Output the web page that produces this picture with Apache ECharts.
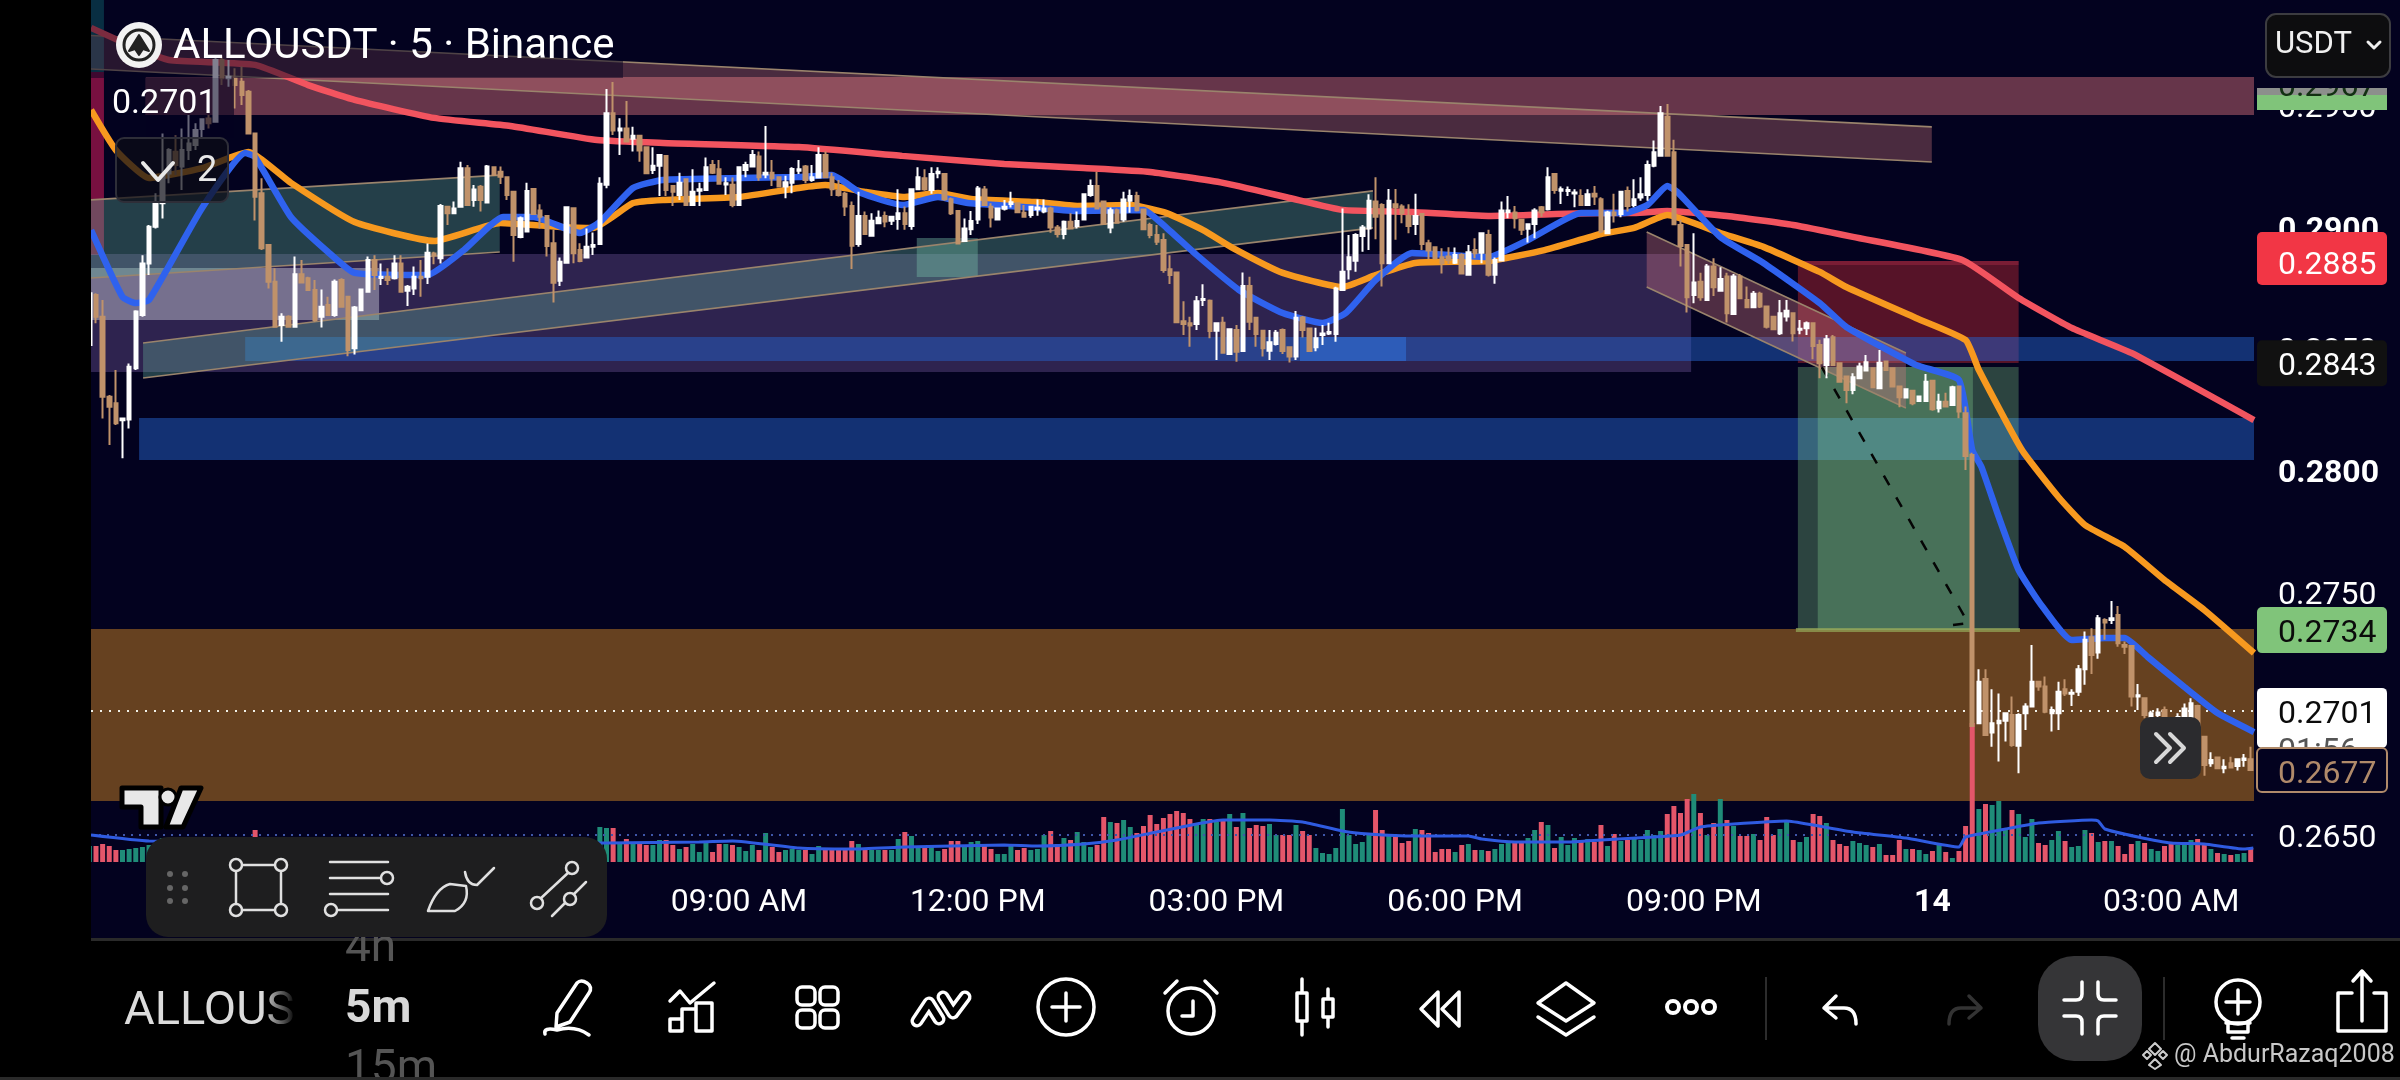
<!DOCTYPE html>
<html><head><meta charset="utf-8">
<style>html,body{margin:0;padding:0;background:#000}#c{width:2400px;height:1080px}</style>
<script src="https://cdn.jsdelivr.net/npm/echarts@6/dist/echarts.min.js"></script>
</head><body><div id="c"></div>
<script>
// Candle values, in 1e-5 USDT. First candle is bar index -1 (5-minute bars).
const opens = [
28514,28719,28630,28301,28274,28205,28208,28418,28637,28849,
29000,29096,29219,29308,29247,29315,29336,29401,29445,29431,
29685,29610,29610,29596,29555,29383,29137,28925,28774,28596,
28630,28589,28805,28788,28740,28630,28678,28637,28781,28712,
28500,28657,28733,28863,28789,28794,28788,28849,28737,28746,
28794,28794,28890,28870,29082,29055,29082,29240,29110,29164,
29099,29244,29226,29203,29144,28958,28980,29155,29066,29044,
28932,28778,28852,29076,28904,28873,28918,28929,29172,29466,
29395,29404,29361,29374,29326,29233,29250,29291,29167,29130,
29195,29089,29148,29151,29254,29236,29173,29172,29089,29233,
29247,29288,29214,29222,29203,29165,29181,29230,29247,29192,
29202,29295,29203,29148,29135,29085,28929,29044,28963,29014,
29044,29024,29032,29055,29003,29154,29199,29151,29220,29217,
29113,29064,28941,28989,29030,29153,29082,29030,29074,29093,
29096,29057,29048,29072,29062,29075,28997,28970,29020,29003,
29030,29130,29167,29103,28997,29068,29030,29107,29126,29071,
29007,28966,28945,28825,28812,28611,28603,28600,28699,28696,
28572,28605,28477,28575,28489,28756,28626,28572,28490,28518,
28575,28504,28466,28627,28582,28504,28555,28561,28559,28740,
28825,28860,28962,28993,29103,29089,28850,29092,29083,29044,
29011,29052,28932,28915,28874,28877,28852,28884,28802,28904,
28893,28966,28802,28861,29059,29058,29028,28992,29011,29080,
29072,29217,29148,29147,29136,29126,29089,29135,29113,28973,
29058,29052,29147,29089,29120,29130,29250,29292,29452,29306,
29007,28925,28719,28774,28699,28836,28737,28795,28641,28795,
28699,28669,28724,28672,28630,28562,28631,28644,28576,28583,
28603,28514,28432,28546,28439,28384,28329,28377,28409,28418,
28336,28446,28418,28343,28298,28326,28284,28284,28367,28254,
28281,28267,28343,28233,28062,26959,27141,26921,26959,26970,
26993,26867,27000,27028,27130,27110,27000,27000,27099,27080,
27089,27181,27313,27250,27384,27384,27404,27281,27277,27069,
27062,26986,26993,27014,26959,26950,26973,26973,27030,26904,
26795,26819,26774,26795,26784,26808,26811];
const closes = [
28726,28630,28301,28260,28192,28212,28424,28651,28849,29000,
29096,29212,29315,29253,29315,29342,29397,29442,29425,29685,
29610,29616,29582,29541,29383,29123,28911,28774,28589,28630,
28589,28805,28771,28740,28616,28671,28637,28774,28671,28493,
28668,28742,28863,28801,28794,28781,28849,28733,28753,28794,
28788,28893,28883,29085,29055,29075,29240,29089,29153,29110,
29247,29212,29205,29130,28966,29035,29147,29052,29041,28921,
28770,28856,29080,28891,28859,28918,28925,29176,29466,29395,
29404,29350,29374,29313,29220,29250,29295,29151,29144,29181,
29089,29144,29154,29244,29222,29176,29178,29089,29244,29254,
29295,29203,29222,29199,29165,29183,29237,29236,29192,29203,
29295,29203,29154,29130,29083,28922,29044,28970,29024,29037,
29021,29041,29055,29011,29154,29203,29154,29217,29226,29113,
29055,28931,28993,29023,29157,29089,29038,29075,29082,29100,
29059,29041,29082,29079,29075,28997,28970,29020,28993,29023,
29133,29167,29075,29011,29068,29016,29112,29126,29068,28989,
28966,28938,28822,28801,28607,28600,28594,28694,28703,28571,
28603,28482,28578,28486,28756,28609,28559,28500,28525,28564,
28489,28466,28626,28575,28489,28541,28561,28567,28746,28815,
28874,28966,28997,29107,29041,28850,29107,29080,29055,29003,
29044,28929,28902,28870,28850,28863,28884,28808,28895,28891,
28973,28802,28863,29066,29066,29035,28987,29010,29066,29059,
29203,29151,29154,29151,29140,29089,29133,29124,28980,29058,
29048,29144,29085,29113,29133,29254,29306,29466,29292,29010,
28921,28710,28771,28710,28836,28751,28785,28644,28795,28706,
28669,28724,28672,28589,28578,28644,28655,28562,28581,28603,
28510,28439,28537,28432,28363,28329,28381,28425,28443,28340,
28441,28411,28343,28299,28332,28274,28302,28363,28250,28281,
28261,28340,28240,28058,26948,27130,26911,26959,26970,27000,
26870,26993,27028,27130,27110,27007,27014,27089,27082,27085,
27181,27302,27240,27391,27373,27391,27288,27274,27069,27074,
26993,27000,27003,26959,26950,26985,27020,27041,26918,26788,
26808,26774,26781,26777,26811,26814,26767];
const lows = [
28514,28603,28212,28103,28185,28048,28171,28411,28630,28801,
28993,29034,29178,29212,29151,29274,29315,29363,29404,29431,
29582,29575,29486,29500,29381,29025,28904,28746,28586,28527,
28586,28586,28767,28737,28609,28586,28634,28630,28668,28468,
28475,28655,28729,28740,28760,28760,28783,28729,28674,28719,
28712,28764,28846,28849,29007,29052,29079,29085,29082,29062,
29096,29208,29175,29110,28856,28952,28976,29048,28993,28877,
28688,28756,28850,28850,28854,28870,28884,28925,29158,29377,
29295,29346,29309,29267,29217,29217,29126,29126,29085,29110,
29085,29085,29085,29148,29217,29172,29130,29080,29085,29203,
29244,29189,29199,29167,29162,29117,29137,29217,29178,29185,
29199,29199,29126,29124,29044,28826,28918,28966,28962,29011,
28998,29007,28987,28987,28987,29151,29148,29135,29199,29107,
29048,28927,28938,28966,29011,29085,28997,29025,29066,29079,
29056,29038,29037,29045,29055,28975,28956,28948,28989,28993,
29025,29123,29071,29007,28973,29014,29020,29057,29062,28986,
28952,28925,28811,28764,28605,28555,28507,28575,28674,28541,
28452,28479,28474,28445,28486,28575,28507,28466,28452,28512,
28477,28442,28452,28545,28485,28488,28514,28555,28527,28737,
28783,28815,28897,28904,28948,28754,28847,28946,29014,28973,
28966,28904,28866,28866,28808,28847,28847,28806,28800,28870,
28850,28795,28765,28858,29035,28993,28966,28935,28952,29041,
29066,29135,29093,29126,29080,29085,29087,29089,28973,28970,
29017,29039,29062,29080,29107,29107,29244,29289,29289,29007,
28836,28647,28685,28696,28696,28715,28735,28606,28639,28702,
28666,28666,28666,28582,28575,28555,28610,28528,28558,28555,
28455,28377,28377,28428,28359,28274,28311,28374,28406,28336,
28333,28407,28340,28258,28294,28266,28281,28281,28244,28236,
28258,28263,28213,28000,26945,26956,26908,26863,26802,26884,
26863,26754,26932,27025,27093,27000,26925,26932,27071,27030,
27071,27117,27162,27224,27302,27367,27274,27244,27028,27014,
26980,26975,26970,26950,26930,26930,26960,26959,26900,26743,
26781,26770,26754,26774,26765,26781,26765];
const highs = [
28726,28726,28699,28308,28411,28212,28438,28657,28883,29007,
29137,29383,29322,29377,29404,29459,29425,29445,29459,29692,
29699,29685,29651,29658,29562,29386,29199,28925,28829,28644,
28636,28877,28863,28794,28781,28742,28712,28783,28788,28715,
28674,28746,28877,28883,28849,28829,28883,28883,28760,28836,
28863,28931,28897,29093,29085,29103,29267,29253,29171,29171,
29253,29247,29247,29205,29146,29042,29181,29158,29092,29047,
28987,28873,29083,29076,28932,28993,28976,29203,29566,29595,
29446,29517,29411,29377,29329,29326,29295,29295,29171,29222,
29199,29236,29181,29284,29274,29274,29203,29202,29247,29267,
29315,29309,29414,29274,29206,29209,29244,29274,29254,29254,
29326,29309,29222,29192,29144,29103,29144,29062,29055,29066,
29062,29044,29154,29083,29158,29244,29236,29244,29244,29220,
29120,29067,29034,29064,29167,29167,29096,29079,29110,29144,
29096,29089,29085,29112,29112,29082,29007,29025,29055,29062,
29137,29194,29226,29103,29079,29075,29144,29153,29144,29074,
29016,29007,28973,28883,28812,28694,28630,28715,28763,28701,
28605,28630,28582,28596,28812,28794,28627,28575,28575,28575,
28582,28507,28653,28633,28585,28585,28596,28605,28753,29075,
28966,28973,29007,29133,29203,29096,29155,29155,29092,29092,
29135,29055,28946,28918,28911,28915,28914,28891,28925,28952,
28976,28987,28873,29103,29126,29085,29030,29014,29076,29085,
29244,29220,29165,29165,29154,29154,29154,29167,29121,29065,
29135,29148,29165,29195,29203,29272,29354,29496,29504,29357,
29028,28929,28973,28811,28847,28870,28833,28811,28806,28806,
28754,28736,28733,28674,28633,28699,28699,28647,28617,28610,
28606,28535,28555,28555,28441,28387,28398,28441,28473,28422,
28493,28450,28421,28346,28336,28329,28304,28395,28370,28313,
28318,28346,28346,28261,28071,27181,27181,27099,27082,27003,
27069,27000,27041,27281,27133,27151,27028,27130,27140,27099,
27199,27336,27350,27404,27391,27462,27441,27295,27280,27121,
27065,27011,27021,27028,26985,27000,27040,27062,27035,26907,
26840,26822,26811,26822,26814,26833,26863];
// Volume per bar (relative units), same order as the candles.
const volumes = [
16,16,18,16,12,12,13,14,15,17,
18,24,20,16,20,14,13,12,11,24,
18,14,13,14,18,32,24,20,20,12,
10,20,12,10,14,12,10,14,12,18,
16,12,14,12,10,9,10,12,9,10,
9,12,7,18,8,7,16,16,9,9,
13,7,8,9,16,10,14,10,8,12,
16,10,16,14,9,8,9,35,34,34,
19,23,20,20,17,17,22,22,17,13,15,18,10,20,10,18,18,17,15,11,17,12,29,15,10,12,13,12,
12,8,16,13,12,12,12,21,18,13,12,12,12,12,23,30,26,14,14,16,11,13,21,21,17,20,21,18,13,8,8,16,12,14,12,13,27,31,18,24,22,30,20,15,17,45,40,39,42,35,29,36,47,38,44,48,51,49,43,38,43,43,40,42,48,35,49,34,37,36,38,27,27,27,37,31,27,14,9,8,14,53,27,18,20,27,52,32,27,26,19,21,33,32,29,10,13,13,10,17,18,12,12,11,13,18,20,20,21,24,32,40,37,14,25,17,24,22,23,20,
37,16,28,21,22,25,22,32,27,31,48,56,49,63,68,49,27,39,63,42,36,26,26,28,22,45,27,33,40,22,20,25,48,46,39,22,18,16,21,19,17,15,18,7,7,22,13,13,12,8,11,18,10,4,11,36,139,53,58,57,61,32,52,48,25,43,19,17,22,31,21,15,16,32,29,20,21,21,16,8,18,21,19,13,11,16,18,17,17,22,23,17,13,9,8,7,8,9,14];
// Moving averages: bar index, price.
const maRedX = [-0.75,5.6,11,24,32,39,51,62.5,75.6,85.5,106,121.6,137,149,159,170,180,188,198.5,210,227,232,237,246,256,265,281.5,290,298,307,325.5];
const maRedY = [29817,29739,29685,29665,29582,29521,29447,29414,29356,29344,29327,29291,29258,29241,29225,29180,29118,29069,29060,29044,29056,29056,29064,29044,29007,28958,28863,28707,28584,28481,28205];
const maOrangeX = [-0.75,3,8,16,23,29.4,39,51,61,70,75,81,85.5,97,106,110,116,122,127,132,142,148,156,161.5,167,171.5,179,188,193,199,210,218.5,227,232,237,245,251.5,260,264,274.5,282,284,290.5,296,300,306,312,318,325.5];
const maOrangeY = [29480,29315,29200,29241,29307,29180,29019,28941,29015,28999,28995,29097,29110,29122,29159,29171,29143,29122,29138,29114,29101,29085,29089,29056,28986,28912,28810,28752,28801,28851,28859,28904,28970,28995,29048,28974,28917,28814,28752,28625,28534,28411,28082,27889,27774,27684,27548,27425,27248];
const maBlueX = [-0.75,4,6,8,16,22.5,24,29.4,35,39,50,55.5,61.4,66,73,76,81,85.5,97,106,111,115.4,121.6,127,131.5,142,148,158,161.5,166,172.4,179,185,188.5,193,198.5,210,216,224,230.6,234,237,238.5,245,251.5,260,264,274.5,281,283,284.4,287,290,293.2,298,303,306,309.5,315,320,325.5];
const maBlueY = [28986,28711,28686,28699,29077,29303,29286,29040,28896,28810,28801,28904,29040,29040,28974,29019,29159,29192,29200,29204,29212,29138,29089,29122,29097,29077,29064,29069,28995,28884,28740,28645,28604,28645,28781,28892,28875,28945,29056,29056,29089,29167,29143,28958,28851,28686,28588,28432,28370,28082,28012,27807,27589,27453,27301,27310,27310,27231,27108,27001,26923];
const volMaX = [-0.75,8,77,91,96,106,114,122,129,137,142,149,154,160,166,170,177,182,188,192,199,207,209,214,222,227,235,239,242,247,255,259,265,273,281,282,288,293,301,302,303,308,313,318,324,325.4];
const volMaY = [27,21,19,20,21,14,13,15,16,17,16,18,22,30,38,42,42,40,31,28,26,26,23,20,20,22,25,27,35,38,41,37,30,24,15,25,33,39,42,41,33,25,19,18,13,14];
// Tick labels.
const priceTicks = [0.265,0.27,0.275,0.28,0.285,0.29,0.295];
const boldPrices = [0.28,0.29];
const timeTickBars = [97,133,169,205,241,277,313];
const timeTickLabels = ['09:00 AM','12:00 PM','03:00 PM','06:00 PM','09:00 PM','14','03:00 AM'];
// Last-price reference levels.
const lastPrice = 26767, legendPrice = 27010, volAverage = 27;
const xMin = -0.754, xMax = 325.5;
// Drawn zones: bar from, bar to, price top, price bottom.
const zones = [
 [-0.754,325.5,27347,26640,'#664120'],
 [-0.754,1.2,29932,29636,'rgba(28,222,208,.4)'],
 [-0.754,1.2,29636,28884,'rgba(237,30,97,.5)'],
 [7.5,325.5,29615,29459,'rgba(223,115,126,.45)'],
 [-0.754,240.6,28888,28403,'rgba(113,84,153,.4)'],
 [-0.754,42.7,28830,28616,'rgba(189,189,206,.5)'],
 [256.7,290,28859,28440,'rgba(213,45,56,.4)'],
 [256.7,290,28859,28843,'rgba(230,60,90,.25)'],
 [22.5,325.5,28547,28448,'rgba(35,95,200,.5)'],
 [181.6,197.6,28547,28448,'rgba(50,120,230,.5)'],
 [6.5,325.5,28214,28041,'rgba(35,95,200,.5)'],
 [256.7,290,28423,27342,'rgba(140,222,141,.3)'],
 [259.7,283.1,28423,27342,'rgba(140,220,150,.3)'],
 [256.4,290.2,27351,27334,'rgba(150,170,90,.7)'],
 [123.8,133,28954,28793,'rgba(140,220,190,.35)']
];
// Parallel channels: bar from, price top, price bottom, bar to, price top, price bottom.
const channels = [
 [-0.754,29786,29648,276.9,29410,29266,'rgba(240,139,138,.3)'],
 [-0.754,29110,28789,60.9,29212,28896,'rgba(100,179,151,.35)'],
 [7.1,28522,28378,192.6,29147,28995,'rgba(100,179,151,.35)'],
 [233.9,28978,28752,273,28481,28255,'rgba(205,115,125,.38)']
];
const pathBars = [260.3,282.4,280.1];
const pathPrices = [28423,27371,27363];
// Price tags on the right scale.
const tags = [
 {price:28871,text:'0.2885',bg:'#f23645',fg:'#ffffff',up:26,dn:27,dy:8},
 {price:28439,text:'0.2843',bg:'#111111',fg:'#ffffff',up:23,dn:23,dy:4},
 {price:27342,text:'0.2734',bg:'#80c47a',fg:'#0b0b0b',up:23,dn:23,dy:4},
 {price:27010,text:'0.2701',bg:'#ffffff',fg:'#0b0b0b',up:23,dn:37,dy:4,sub:'01:56'},
 {price:26767,text:'0.2677',bg:'#03021f',fg:'#b08a6a',up:22,dn:22,dy:5,border:'#b08a6a'}
];

const P = v => v / 1e5;
const FONT = 'Roboto, "Noto Sans", sans-serif';
const BG = '#03021f', UP = '#ffffff', DOWN = '#c0926a', VUP = '#1f8c78', VDOWN = '#e4566a';
const pairs = (xs, ys) => xs.map((x, i) => [x, P(ys[i])]);

const candleData = opens.map((o, i) => [i - 1, P(o), P(closes[i]), P(lows[i]), P(highs[i])]);
const volumeData = volumes.map((v, i) => ({ value: [i - 1, v], itemStyle: { color: closes[i] >= opens[i] ? VUP : VDOWN } }));

function maSeries(name, xs, ys, color) {
  return { name, type: 'line', data: pairs(xs, ys), showSymbol: false, smooth: 0.15, z: 3, silent: true,
    lineStyle: { color, width: 6.5 }, animation: false };
}
function renderZone(params, api) {
  const z = zones[params.dataIndex];
  const a = api.coord([z[0], P(z[2])]), b = api.coord([z[1], P(z[3])]);
  return { type: 'rect', shape: { x: a[0], y: a[1], width: b[0] - a[0], height: b[1] - a[1] }, style: { fill: z[4] } };
}
function renderChannel(params, api) {
  const c = channels[params.dataIndex];
  const tl = api.coord([c[0], P(c[1])]), bl = api.coord([c[0], P(c[2])]), tr = api.coord([c[3], P(c[4])]), br = api.coord([c[3], P(c[5])]);
  const line = (p, q) => ({ type: 'line', shape: { x1: p[0], y1: p[1], x2: q[0], y2: q[1] }, style: { stroke: '#9a846c', lineWidth: 1.6 } });
  return { type: 'group', children: [
    { type: 'polygon', shape: { points: [tl, tr, br, bl] }, style: { fill: c[6] } }, line(tl, tr), line(bl, br) ] };
}
function renderTag(params, api) {
  const t = tags[params.dataIndex];
  const y = api.coord([0, P(t.price)])[1];
  const kids = [{ type: 'rect', shape: { x: 2257, y: y - t.up, width: 130, height: t.up + t.dn, r: 5 },
    style: { fill: t.bg, stroke: t.border || null, lineWidth: 2 } }];
  kids.push({ type: 'text', style: { text: t.text, x: 2278, y: y + t.dy, fill: t.fg, font: '32px ' + FONT, align: 'left', verticalAlign: 'middle' } });
  if (t.sub) kids.push({ type: 'text', style: { text: t.sub, x: 2278, y: y + 41, fill: '#555', font: '32px ' + FONT, align: 'left', verticalAlign: 'middle' } });
  return { type: 'group', children: kids };
}

// Screen chrome around the chart.
const G = [];
let iconCount = 0;
const rect = (x, y, w, h, fill, r, stroke, lw) => G.push({ type: 'rect', z: 100, shape: { x, y, width: w, height: h, r: r || 0 }, style: { fill, stroke: stroke || null, lineWidth: lw || 0 } });
const text = (s, x, y, size, fill, weight, align) => G.push({ type: 'text', z: 100, x, y, style: { text: s, fill, font: (weight || 'normal') + ' ' + size + 'px ' + FONT, align: align || 'left', verticalAlign: 'middle' } });
const circle = (cx, cy, r, fill, stroke, lw) => G.push({ type: 'circle', z: 100, shape: { cx, cy, r }, style: { fill: fill || null, stroke: stroke || null, lineWidth: lw || 0 } });
const icon = (d, x, y, stroke, lw, fill) => {
  const name = 'chromeIcon' + (iconCount++);
  echarts.graphic.registerShape(name, echarts.graphic.extendPath(d));
  G.push({ type: name, z: 100, x, y, style: { fill: fill || 'none', stroke: stroke || '#fff', lineWidth: lw || 3.5, lineJoin: 'round', lineCap: 'round' } });
};

// left margin keeps the clipped first bar inside the plot
rect(0, 0, 91, 938, '#000');
// title backing and legend
rect(91, 0, 532, 78, 'rgba(3,2,31,.5)');
rect(146, 78, 88, 60, 'rgba(3,2,31,.6)');
circle(139, 45, 23, '#f2f2f2');
circle(139, 45, 15, null, '#222', 3);
icon('M0,-10 L10,6 L4,4 L0,10 L-4,4 L-10,6 Z', 139, 45, '#222', 2, '#222');
text('ALLOUSDT · 5 · Binance', 173, 47, 42, '#ffffff');
text('0.2701', 112, 104, 34, '#ffffff');
rect(116, 138, 112, 64, 'rgba(12,12,22,.72)', 8, '#2e2e38', 2);
icon('M-15,-9 L0,8 L15,-9', 158, 172, '#e8e8e8', 4);
text('2', 197, 172, 36, '#e8e8e8');
// top clipped tag and currency button
rect(2257, 88, 130, 7, '#8c8f8c');
rect(2257, 95, 130, 15, '#80c47a');
text('0.2967', 2278, 88, 32, '#123012');
rect(2256, 60, 136, 28, BG);
rect(2266, 14, 124, 63, '#0d0d0f', 10, '#3c3c40', 2);
text('USDT', 2275, 45, 31, '#f0f0f0');
icon('M-6,-3 L0,3 L6,-3', 2374, 45, '#f0f0f0', 3);
// scroll-to-latest button
rect(2140, 717, 61, 62, '#2b2b2e', 10);
icon('M-14,-14 L0,0 L-14,14 M0,-14 L14,0 L0,14', 2170, 748, '#d8d8d8', 4);
// TradingView mark
icon('M122,788 H161 V827 H141 V807 H122 Z M181,788 H201 L183,827 H166 Z', 0, 0, '#000', 5, '#e8e8e8');
circle(168, 797, 8, '#e8e8e8', '#000', 3);
// bottom area
rect(0, 938, 2400, 142, '#000');
rect(91, 938, 2309, 3, '#2a2a2a');
text('ALLOUS', 124, 1012, 47, '#dcdcdc');
G.push({ type: 'rect', z: 100, shape: { x: 262, y: 985, width: 34, height: 50 }, style: { fill: { type: 'linear', x: 0, y: 0, x2: 1, y2: 0, colorStops: [{ offset: 0, color: 'rgba(0,0,0,0)' }, { offset: 1, color: '#000' }] } } });
text('4h', 345, 949, 46, '#555');
text('5m', 345, 1010, 46, '#d8d8d8', 'bold');
text('15m', 345, 1070, 46, '#555');
rect(0, 1077, 2400, 3, '#2a2a2a');
// drawing toolbar
rect(146, 837, 461, 100, '#1e1e1f', 22);
[170, 185].forEach(x => [874, 888, 901].forEach(y => circle(x, y, 3, '#666')));
icon('M236,865 H281 V910 H236 Z', 0, 0, '#e0e0e0', 2.5);
[[236,865],[281,865],[236,910],[281,910]].forEach(p => circle(p[0], p[1], 6, '#1e1e1f', '#e0e0e0', 2.5));
icon('M330,862 H388 M330,878 H381 M330,894 H388 M337,910 H388', 0, 0, '#e0e0e0', 2.5);
circle(387, 878, 6, '#1e1e1f', '#e0e0e0', 2.5);
circle(331, 910, 6, '#1e1e1f', '#e0e0e0', 2.5);
icon('M428,911 Q436,888 450,884 L466,886 Q470,903 455,911 Z M465,872 Q467,885 477,885 L494,868', 0, 0, '#e0e0e0', 2.5);
icon('M540,899 L569,872 M552,916 L586,882', 0, 0, '#e0e0e0', 2.5);
circle(572, 868, 6, '#1e1e1f', '#e0e0e0', 2.5);
circle(537, 903, 6, '#1e1e1f', '#e0e0e0', 2.5);
circle(570, 899, 6, '#1e1e1f', '#e0e0e0', 2.5);
// action bar
icon('M-12,6 L8,-24 Q12,-28 18,-24 Q24,-20 20,-14 L1,15 L-13,20 Z M-24,27 Q-26,20 -12,23 Q6,18 20,28', 569, 1007, '#fff', 3.5);
icon('M-22,-6 L-12,-16 L-2,-4 L22,-24 M-22,24 V12 H-10 V24 Z M-10,24 V2 H4 V24 M4,24 V-4 H20 V24 Z', 692, 1007, '#fff', 3.5);
[[797,987],[820,987],[797,1010],[820,1010]].forEach(p => rect(p[0], p[1], 18, 18, 'none', 5, '#fff', 3.5));
icon('M-24,14 L-12,-4 L-2,12 M2,-10 L12,6 L24,-10', 941, 1007, '#fff', 13);
icon('M-24,14 L-12,-4 L-2,12 M2,-10 L12,6 L24,-10', 941, 1007, '#000', 6);
circle(1066, 1007, 28, null, '#fff', 3.5);
icon('M-14,0 H14 M0,-14 V14', 1066, 1007, '#fff', 3.5);
circle(1191, 1011, 23, null, '#fff', 3.5);
icon('M2,-8 V7 H-9 M-26,-16 L-14,-28 M26,-16 L14,-28', 1191, 1009, '#fff', 3.5);
icon('M-14,-28 V-14 M-14,14 V28 M12,-18 V-8 M12,10 V20 M-19,-14 H-9 V14 H-19 Z M7,-8 H17 V10 H7 Z', 1316, 1007, '#fff', 3.5);
icon('M-2,-17 L-19,0 L-2,17 Z M19,-17 L2,0 L19,17 Z', 1440, 1009, '#fff', 3.5);
icon('M0,-24 L28,-4 L0,14 L-28,-4 Z M-28,10 L0,28 L28,10', 1566, 1007, '#fff', 3.5);
[-18, 0, 18].forEach(d => circle(1691 + d, 1007, 6, null, '#fff', 4));
rect(1765, 977, 2, 63, '#2c2c2c');
icon('M-4,-14 L-16,-2 L-4,8 M-16,-2 H4 Q16,-2 16,14', 1840, 1010, '#fff', 3.5);
icon('M4,-14 L16,-2 L4,8 M16,-2 H-4 Q-16,-2 -16,14', 1965, 1010, '#333', 3.5);
rect(2038, 956, 104, 105, '#353537', 36);
icon('M-26,-8 H-14 Q-8,-8 -8,-14 V-26 M26,-8 H14 Q8,-8 8,-14 V-26 M-26,8 H-14 Q-8,8 -8,14 V26 M26,8 H14 Q8,8 8,14 V26', 2090, 1008, '#fff', 3.5);
rect(2163, 977, 2, 63, '#2c2c2c');
circle(2238, 1002, 22, null, '#fff', 3.5);
icon('M-12,0 H12 M0,-12 V12 M-10,20 V30 H10 V20 M-12,21 H12 M-6,36 H6', 2238, 1002, '#fff', 3.5);
icon('M-10,-14 H-24 V24 H24 V-14 H12 M0,14 V-36 M-9,-26 L0,-36 L9,-26', 2362, 1007, '#fff', 3.5);
// watermark
icon('M0,-12 L6,-6 L0,0 L-6,-6 Z M-12,0 L-8,-4 L-4,0 L-8,4 Z M12,0 L8,-4 L4,0 L8,4 Z M0,4 L6,10 L0,14 L-6,10 Z', 2155, 1055, '#cccccc', 2);
text('@ AbdurRazaq2008', 2174, 1056, 25, '#c8c8c8');

const chart = echarts.init(document.getElementById('c'), null, { renderer: 'canvas', width: 2400, height: 1080 });
const hidden = { show: false };
chart.setOption({
  animation: false,
  backgroundColor: '#000000',
  textStyle: { fontFamily: FONT },
  grid: [
    { left: 91, right: 146, top: 0, height: 938 },
    { left: 91, right: 146, top: 723, height: 139 }
  ],
  xAxis: [
    { type: 'value', gridIndex: 0, min: xMin, max: xMax, show: false, splitLine: hidden },
    { type: 'value', gridIndex: 1, min: xMin, max: xMax, splitLine: hidden, axisLine: hidden, axisTick: hidden,
      axisLabel: { customValues: timeTickBars, margin: 25, color: '#fff', fontSize: 32, fontFamily: FONT,
        formatter: v => { const s = timeTickLabels[timeTickBars.indexOf(v)]; return s === '14' ? '{b|14}' : s; },
        rich: { b: { fontWeight: 'bold', fontSize: 32, color: '#fff', fontFamily: FONT } } } }
  ],
  yAxis: [
    { type: 'value', gridIndex: 0, position: 'right', min: 0.260767, max: 0.299316, scale: true, splitLine: hidden, axisLine: hidden, axisTick: hidden,
      axisLabel: { customValues: priceTicks, margin: 24, color: '#fff', fontSize: 32, fontFamily: FONT, padding: [8, 0, 0, 0],
        formatter: v => boldPrices.some(b => Math.abs(b - v) < 1e-6) ? '{b|' + v.toFixed(4) + '}' : v.toFixed(4),
        rich: { b: { fontWeight: 'bold', fontSize: 32, color: '#fff', fontFamily: FONT } } } },
    { type: 'value', gridIndex: 1, min: 0, max: 139, show: false, splitLine: hidden }
  ],
  graphic: { elements: [{ type: 'rect', z: -1, silent: true, shape: { x: 91, y: 0, width: 2309, height: 938 }, style: { fill: BG } }].concat(G) },
  series: [
    { name: 'zones', type: 'custom', data: zones.map((z, i) => [i, i]), renderItem: renderZone, z: 1, silent: true, encode: { x: 0, y: 1 } , yAxisIndex: 0, xAxisIndex: 0 },
    { name: 'channels', type: 'custom', data: channels.map((c, i) => [i, i]), renderItem: renderChannel, z: 1, silent: true, encode: { x: 0, y: 1 } },
    { name: 'Volume', type: 'bar', xAxisIndex: 1, yAxisIndex: 1, data: volumeData, barWidth: 5, z: 2, silent: true },
    { name: 'Volume average', type: 'line', xAxisIndex: 1, yAxisIndex: 1, data: [[xMin, volAverage], [xMax, volAverage]], showSymbol: false, z: 2,
      lineStyle: { color: '#3f56a8', width: 2, type: [2, 6] } },
    { name: 'Volume MA', type: 'line', xAxisIndex: 1, yAxisIndex: 1, data: volMaX.map((x, i) => [x, volMaY[i]]), showSymbol: false, smooth: 0.15, z: 3,
      lineStyle: { color: '#2f5be0', width: 3 } },
    { name: 'Last price', type: 'line', data: [[xMin, P(legendPrice)], [xMax, P(legendPrice)]], showSymbol: false, z: 3,
      lineStyle: { color: '#f0f0e8', width: 2, type: [2, 7] } },
    maSeries('MA red', maRedX, maRedY, '#f2545f'),
    maSeries('MA orange', maOrangeX, maOrangeY, '#f7991f'),
    maSeries('MA blue', maBlueX, maBlueY, '#2f62ee'),
    { name: 'Projection', type: 'line', data: pairs(pathBars, pathPrices), showSymbol: false, z: 3,
      lineStyle: { color: '#050505', width: 2.5, type: [11, 14] } },
    { name: 'ALLOUSDT', type: 'candlestick', data: candleData, encode: { x: 0, y: [1, 2, 3, 4] }, barWidth: 4, z: 4, silent: true,
      itemStyle: { color: UP, color0: DOWN, borderColor: UP, borderColor0: DOWN, borderWidth: 2 } },
    { name: 'tags', type: 'custom', data: tags.map((t, i) => [i, P(t.price)]), renderItem: renderTag, z: 5, silent: true, encode: { x: 0, y: 1 }, clip: false }
  ]
});
</script></body></html>
